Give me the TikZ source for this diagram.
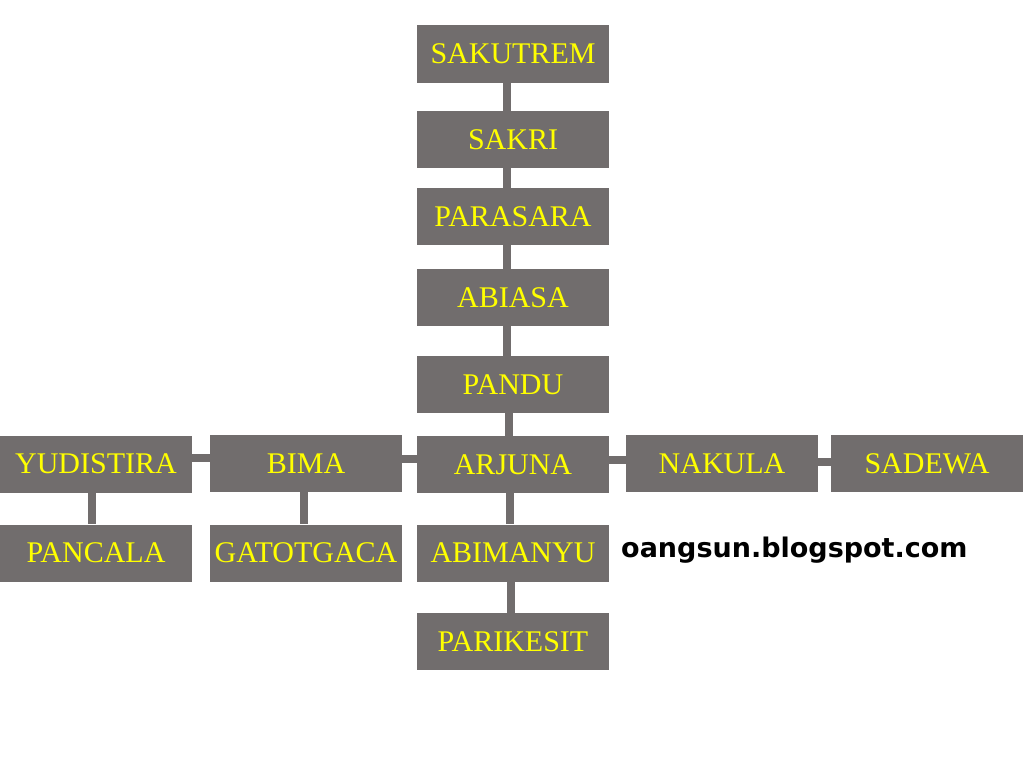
\documentclass[tikz,border=0pt]{standalone}
\usepackage{fontspec}
\setmainfont{Liberation Serif}
\newfontfamily\webfont{DejaVu Sans}
\definecolor{boxgray}{HTML}{716D6D}
\definecolor{txtyellow}{HTML}{FFFF00}
\begin{document}
\begin{tikzpicture}[x=1pt,y=-1pt,
  pbox/.style={fill=boxgray,minimum width=192pt,minimum height=57pt,inner sep=0pt,text=txtyellow,font=\fontsize{30}{30}\selectfont},
  link/.style={draw=boxgray,line width=8pt}]
\useasboundingbox (0,0) rectangle (1024,768);
\node[pbox] (sakutrem) at (513,54) {SAKUTREM};
\node[pbox] (sakri) at (513,139.5) {SAKRI};
\node[pbox] (parasara) at (513,216.5) {PARASARA};
\node[pbox] (abiasa) at (513,297.5) {ABIASA};
\node[pbox] (pandu) at (513,384.5) {PANDU};
\node[pbox] (arjuna) at (513,464.5) {ARJUNA};
\node[pbox] (abimanyu) at (513,553) {ABIMANYU};
\node[pbox] (parikesit) at (513,641.5) {PARIKESIT};
\node[pbox] (yudistira) at (96,464) {YUDISTIRA};
\node[pbox] (bima) at (306,463.5) {BIMA};
\node[pbox] (pancala) at (96,553) {PANCALA};
\node[pbox] (gatotgaca) at (306,553) {GATOTGACA};
\node[pbox] (nakula) at (722,463.5) {NAKULA};
\node[pbox] (sadewa) at (927,463.5) {SADEWA};
\begin{scope}[on background layer/.style={}]
\end{scope}
\draw[link] (sakutrem.south -| 507,0) -- (sakri.north -| 507,0);
\draw[link] (sakri.south -| 507,0) -- (parasara.north -| 507,0);
\draw[link] (parasara.south -| 507,0) -- (abiasa.north -| 507,0);
\draw[link] (abiasa.south -| 507,0) -- (pandu.north -| 507,0);
\draw[link] (pandu.south -| 509,0) -- (arjuna.north -| 509,0);
\draw[link] (arjuna.south -| 510,0) -- (abimanyu.north -| 510,0);
\draw[link] (abimanyu.south -| 511,0) -- (parikesit.north -| 511,0);
\draw[link] (yudistira.east |- 0,458) -- (bima.west |- 0,458);
\draw[link] (bima.east |- 0,459) -- (arjuna.west |- 0,459);
\draw[link] (arjuna.east |- 0,460) -- (nakula.west |- 0,460);
\draw[link] (nakula.east |- 0,462) -- (sadewa.west |- 0,462);
\draw[link] (yudistira.south -| 92,0) -- (pancala.north -| 92,0);
\draw[link] (bima.south -| 304,0) -- (gatotgaca.north -| 304,0);
\node[font=\webfont\bfseries\fontsize{27}{27}\selectfont,text=black,anchor=west,inner sep=0pt] (blog) at (621,550) {oangsun.blogspot.com};
\end{tikzpicture}
\end{document}
